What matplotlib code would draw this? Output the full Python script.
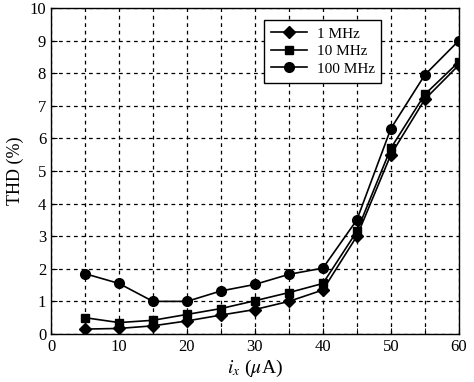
import matplotlib
matplotlib.use("Agg")
import matplotlib.pyplot as plt

plt.rcParams['font.family'] = ['Liberation Serif', 'DejaVu Serif']
plt.rcParams['mathtext.fontset'] = 'stix'

x = [5, 10, 15, 20, 25, 30, 35, 40, 45, 50, 55, 60]
thd_1mhz = [0.15, 0.17, 0.25, 0.4, 0.58, 0.75, 1.0, 1.35, 3.0, 5.5, 7.2, 8.25]
thd_10mhz = [0.5, 0.35, 0.42, 0.6, 0.78, 1.02, 1.27, 1.55, 3.15, 5.7, 7.35, 8.35]
thd_100mhz = [1.85, 1.55, 1.0, 1.0, 1.32, 1.52, 1.83, 2.02, 3.5, 6.3, 7.95, 9.0]
labels = ['1 MHz', '10 MHz', '100 MHz']

fig = plt.figure(figsize=(4.74, 3.82), dpi=100)
ax = fig.add_axes([0.1076, 0.1257, 0.8604, 0.8533])

ax.plot(x, thd_1mhz, 'k-', marker='D', markersize=6, lw=1.2, label=labels[0])
ax.plot(x, thd_10mhz, 'k-', marker='s', markersize=6, lw=1.2, label=labels[1])
ax.plot(x, thd_100mhz, 'k-', marker='o', markersize=7, lw=1.2, label=labels[2])

ax.set_xlim(0, 60)
ax.set_ylim(0, 10)
ax.set_xticks(range(0, 61, 10))
ax.set_xticks(range(0, 61, 5), minor=True)
ax.set_yticks(range(0, 11, 1))
ax.tick_params(direction='in', labelsize=12, length=4)
ax.tick_params(which='minor', direction='in', length=4)
ax.grid(True, which='both', axis='x', color='k', linestyle=(0, (3, 3)), lw=0.9)
ax.grid(True, which='major', axis='y', color='k', linestyle=(0, (3, 3)), lw=0.9)
for s in ax.spines.values():
    s.set_linewidth(1.0)

ax.set_xlabel(r'$i_x$ ($\mu$A)', fontsize=14, labelpad=2)
ax.set_ylabel('THD (%)', fontsize=13, labelpad=4)

leg = ax.legend(loc='upper left', bbox_to_anchor=(0.522, 0.963), fontsize=11,
                frameon=True, fancybox=False, edgecolor='k', framealpha=1,
                handlelength=2.4, handletextpad=0.6, borderpad=0.45,
                labelspacing=0.25, borderaxespad=0)
leg.get_frame().set_linewidth(1.0)

fig.savefig('out.png', dpi=100)
